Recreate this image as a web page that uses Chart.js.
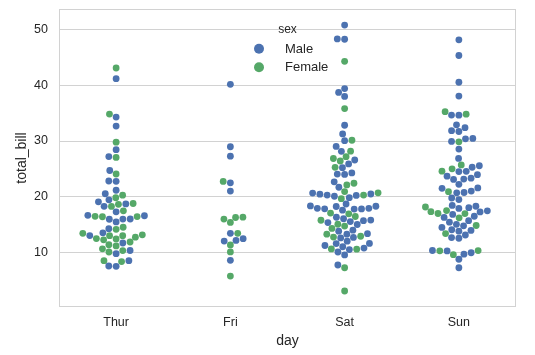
<!DOCTYPE html>
<html><head><meta charset="utf-8">
<script src="https://cdn.jsdelivr.net/npm/chart.js@4/dist/chart.umd.min.js"></script>
<style>html,body{margin:0;padding:0;background:#fff;}canvas{display:block;}</style>
</head><body>
<canvas id="c" width="535" height="355"></canvas>
<script>
// ---- data (tips: total_bill by day and sex) ----
const days = ['Thur', 'Fri', 'Sat', 'Sun'];
const sexes = ['Male', 'Female'];
const yTicks = [10, 20, 30, 40, 50];

const thurMale = [27.20, 22.76, 17.29, 19.44, 16.66, 32.68, 15.98, 13.03, 18.28, 24.71, 21.16,
  11.69, 14.26, 15.95, 8.52, 22.82, 19.08, 16.00, 34.30, 41.19, 9.78, 7.51,
  28.44, 15.48, 16.58, 7.56, 10.34, 13.51, 18.71, 20.53];
const thurFemale = [10.07, 34.83, 10.65, 12.43, 24.08, 13.42, 12.48, 29.80, 14.52, 11.38, 20.27,
  11.17, 12.26, 18.26, 8.51, 10.33, 14.15, 13.16, 17.47, 27.05, 16.43, 8.35, 18.64, 11.87,
  19.81, 43.11, 13.00, 12.74, 13.00, 16.40, 16.47, 18.78];
const friMale = [28.97, 22.49, 40.17, 27.28, 12.03, 21.01, 12.46, 12.16, 8.58, 13.42];
const friFemale = [5.75, 16.32, 22.75, 11.35, 15.38, 13.42, 15.98, 16.27, 10.09];
const satMale = [20.65, 17.92, 39.42, 19.82, 17.81, 13.37, 12.69, 21.70, 9.55, 18.35, 17.78, 24.06,
  16.31, 18.69, 31.27, 16.04, 38.01, 11.24, 48.27, 20.29, 13.81, 11.02, 18.29, 17.59, 20.08,
  20.23, 15.01, 12.02, 10.51, 17.92, 15.36, 20.49, 25.21, 18.24, 14.00, 50.81, 15.81,
  26.59, 38.73, 24.27, 30.06, 25.89, 48.33, 28.15, 11.59, 7.74,
  20.45, 13.28, 24.01, 15.69, 11.61, 10.77, 15.53, 10.07, 12.60, 32.83, 29.03, 22.67, 17.82];
const satFemale = [20.29, 15.77, 19.65, 15.06, 20.69, 16.93, 26.41, 16.45, 3.07, 17.07, 26.86,
  25.28, 14.73, 44.30, 22.42, 20.92, 14.31, 7.25, 10.59, 10.63, 12.76, 13.27, 28.17, 12.90,
  30.14, 22.12, 35.83, 27.18];
const sunMale = [10.34, 21.01, 23.68, 25.29, 8.77, 26.88, 15.04, 14.78, 10.27, 15.42, 18.43, 21.58,
  16.29, 17.46, 13.94, 9.68, 30.40, 18.29, 22.23, 32.40, 28.55, 18.04, 12.54, 9.94, 25.56,
  19.49, 38.07, 23.95, 29.93, 14.07, 13.13, 17.26, 24.55, 19.77, 48.17, 16.49, 21.50, 12.66,
  13.81, 24.52, 20.76, 31.71, 7.25, 31.85, 16.82, 32.90, 17.89, 14.48, 34.63, 34.65, 23.33,
  45.35, 23.17, 40.55, 20.69, 30.46, 23.10, 15.69];
const sunFemale = [16.99, 24.59, 35.26, 14.83, 10.33, 16.97, 10.29, 34.81, 25.71, 17.31, 29.85,
  25.00, 13.39, 16.21, 17.51, 9.60, 20.90, 18.15];

// ---- styling ----
const FONT = "'Liberation Sans', Arial, sans-serif";
const TXT = '#262626';
const GRID = '#d2d2d2';
const colors = { Male: '#4C72B0', Female: '#55A868' };
const valuesBy = {
  Male: [thurMale, friMale, satMale, sunMale],
  Female: [thurFemale, friFemale, satFemale, sunFemale]
};
const SWARM_D = 7; // marker spacing in pixels for the swarm layout

const datasets = sexes.map(s => ({
  label: s,
  data: valuesBy[s].flatMap((arr, i) => arr.map(v => ({ x: i, y: v, day: i }))),
  backgroundColor: colors[s],
  borderWidth: 0,
  pointRadius: 3.4,
  pointHoverRadius: 3.4
}));

const framePlugin = {
  id: 'frame',
  beforeDatasetsDraw(chart) {
    const { ctx, chartArea: a } = chart;
    ctx.save();
    ctx.strokeStyle = GRID;
    ctx.lineWidth = 1;
    const l = Math.round(a.left) + 0.5, r = Math.round(a.right) - 0.5;
    const t = Math.round(a.top) + 0.5, b = Math.round(a.bottom) - 0.5;
    ctx.strokeRect(l, t, r - l, b - t);
    ctx.restore();
  }
};

const legendPlugin = {
  id: 'swarmLegend',
  afterDatasetsDraw(chart) {
    const { ctx, chartArea: a } = chart;
    const cx = (a.left + a.right) / 2;
    ctx.save();
    ctx.fillStyle = TXT;
    ctx.textBaseline = 'middle';
    ctx.textAlign = 'center';
    ctx.font = '12px ' + FONT;
    ctx.fillText('sex', cx, a.top + 20.5);
    ctx.textAlign = 'left';
    ctx.font = '13px ' + FONT;
    chart.data.datasets.forEach((ds, k) => {
      const y = a.top + 39.7 + k * 18.5;
      ctx.fillStyle = ds.backgroundColor;
      ctx.beginPath();
      ctx.arc(cx - 28.5, y, 5, 0, Math.PI * 2);
      ctx.fill();
      ctx.fillStyle = TXT;
      ctx.fillText(ds.label, cx - 2.5, y + 0.5);
    });
    ctx.restore();
  }
};

const chart = new Chart(document.getElementById('c'), {
  type: 'scatter',
  data: { datasets },
  options: {
    responsive: false,
    animation: false,
    layout: { padding: { left: 0, right: 19, top: 9, bottom: 0 } },
    plugins: { legend: { display: false }, tooltip: { enabled: false } },
    scales: {
      x: {
        type: 'linear', min: -0.5, max: 3.5,
        afterBuildTicks: s => { s.ticks = days.map((d, i) => ({ value: i })); },
        afterFit: s => { s.height = 48; s.paddingLeft = 0; s.paddingRight = 0; },
        grid: { display: false, drawTicks: false },
        border: { display: false },
        ticks: { color: TXT, font: { family: FONT, size: 12.5 }, padding: 8, callback: v => days[v] },
        title: { display: true, text: 'day', color: TXT, font: { family: FONT, size: 14 }, padding: { top: 0, bottom: 5 } }
      },
      y: {
        type: 'linear', min: 0.2, max: 53.7,
        afterBuildTicks: s => { s.ticks = yTicks.map(v => ({ value: v })); },
        afterFit: s => { s.width = 59; s.paddingTop = 0; s.paddingBottom = 0; },
        grid: { color: GRID, lineWidth: 1, drawTicks: false },
        border: { display: false },
        ticks: { color: TXT, font: { family: FONT, size: 12.5 }, padding: 11 },
        title: { display: true, text: 'total_bill', color: TXT, font: { family: FONT, size: 14 }, padding: { top: 13.5, bottom: 0 } }
      }
    }
  },
  plugins: [framePlugin, legendPlugin]
});

// ---- beeswarm layout (seaborn-style), computed in pixel space from the scales ----
function beeswarm(pts, mid, d) {
  const swarm = [];
  for (const p of pts) {
    const neighbors = [];
    for (let k = swarm.length - 1; k >= 0; k--) {
      if (Math.abs(p.py - swarm[k].py) < d) neighbors.unshift(swarm[k]); else break;
    }
    const cands = [[mid, p.py]];
    let leftFirst = true;
    for (const n of neighbors) {
      const dy = p.py - n.py;
      const dx = Math.sqrt(Math.max(d * d - dy * dy, 0)) * 1.05;
      const cl = [n.px - dx, p.py], cr = [n.px + dx, p.py];
      if (leftFirst) cands.push(cl, cr); else cands.push(cr, cl);
      leftFirst = !leftFirst;
    }
    cands.sort((a, b) => Math.abs(a[0] - mid) - Math.abs(b[0] - mid));
    let chosen = cands[0];
    if (neighbors.length) {
      for (const c of cands) {
        if (neighbors.every(n => (n.px - c[0]) ** 2 + (n.py - c[1]) ** 2 >= d * d)) { chosen = c; break; }
      }
    }
    p.px = chosen[0];
    swarm.push(p);
  }
}

function layoutSwarm() {
  const xs = chart.scales.x, ys = chart.scales.y;
  days.forEach((d, i) => {
    const pts = [];
    chart.data.datasets.forEach(ds => ds.data.forEach(pt => {
      if (pt.day === i) pts.push({ ref: pt, v: pt.y, py: ys.getPixelForValue(pt.y), px: xs.getPixelForValue(i) });
    }));
    pts.sort((a, b) => a.v - b.v);
    const mid = xs.getPixelForValue(i);
    beeswarm(pts, mid, SWARM_D);
    pts.forEach(p => { p.ref.x = xs.getValueForPixel(p.px); });
  });
  chart.update('none');
}
layoutSwarm();
</script>
</body></html>
